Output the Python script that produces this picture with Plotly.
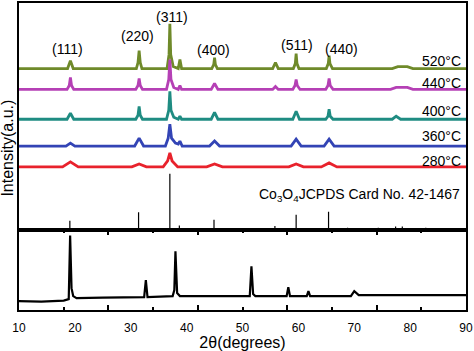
import plotly.graph_objects as go

# ---------------- data ----------------
# Co3O4 samples (relative intensity above each pattern's own baseline)
tt_520 = [10, 18.7, 19.2, 19.7, 31.0, 31.3, 31.5, 31.7, 32.0, 36.5, 36.85, 37.0, 37.15, 37.6, 38.5, 38.8, 39.1,
          44.5, 44.85, 45.0, 45.15, 45.5, 55.4, 55.9, 56.4, 59.1, 59.45, 59.6, 59.75, 60.1, 65.0, 65.35, 65.5, 65.65, 66.1,
          76.8, 77.8, 79.5, 80.5, 90]
int_520 = [0, 0, 8, 0, 0, 6, 18, 6, 0, 0, 14, 45, 14, 2, 0, 9, 0,
           0, 4, 11, 4, 0, 0, 6, 0, 0, 5, 15, 5, 0, 0, 5, 13, 5, 0,
           0, 2, 2, 0, 0]

tt_440 = [10, 18.6, 19.0, 19.2, 19.4, 19.8, 30.9, 31.3, 31.5, 31.7, 32.1, 36.4, 36.8, 37.0, 37.2, 37.7, 38.5, 38.8, 39.1,
          44.4, 45.0, 45.6, 55.4, 55.9, 56.4, 59.0, 59.4, 59.6, 59.8, 60.3, 64.9, 65.3, 65.5, 65.7, 66.2,
          76.5, 77.5, 79.5, 80.5, 90]
int_440 = [0, 0, 4, 12, 4, 0, 0, 4, 11, 4, 0, 0, 10, 30, 10, 2, 0, 4, 0,
           0, 6, 0, 0, 3, 0, 0, 4, 10, 4, 0, 0, 4, 11, 4, 0,
           0, 2, 2, 0, 0]

tt_400 = [10, 18.6, 19.2, 19.8, 30.9, 31.3, 31.5, 31.7, 32.1, 36.4, 36.8, 37.0, 37.2, 37.7, 38.5, 38.8, 39.1,
          44.4, 45.0, 45.6, 59.0, 59.6, 60.2, 64.9, 65.3, 65.5, 65.7, 66.2, 76.8, 77.5, 78.3, 90]
int_400 = [0, 0, 6, 0, 0, 4, 13, 4, 0, 0, 9, 28, 9, 2, 0, 3, 0,
           0, 7, 0, 0, 8, 0, 0, 3, 10, 3, 0, 0, 3, 0, 0]

tt_360 = [10, 18.4, 19.2, 20.0, 30.7, 31.5, 32.3, 36.2, 36.7, 37.0, 37.3, 38.0, 38.5, 38.8, 39.2,
          44.1, 45.0, 45.9, 58.7, 59.6, 60.5, 64.6, 65.5, 66.4, 90]
int_360 = [0, 0, 3, 0, 0, 8, 0, 0, 8, 22, 8, 3, 2, 5, 0,
           0, 5, 0, 0, 7, 0, 0, 7, 0, 0]

tt_280 = [10, 17.8, 19.2, 20.6, 30.2, 31.5, 32.8, 35.8, 36.6, 37.0, 37.4, 38.4, 43.6, 45.0, 46.4,
          58.3, 59.6, 60.9, 64.1, 65.5, 66.9, 90]
int_280 = [0, 0, 5, 0, 0, 3, 0, 0, 6, 14, 6, 0, 0, 3, 0,
           0, 3, 0, 0, 4, 0, 0]

temps = ["520°C", "440°C", "400°C", "360°C", "280°C"]

# Co3O4 JCPDS Card No. 42-1467 reference lines
stick_tt = [19.1, 31.4, 37.0, 38.7, 44.9, 55.8, 59.6, 65.4, 68.8, 74.3, 77.4, 78.6, 82.8]
stick_int = [17, 32, 100, 9, 19, 8, 28, 33, 5, 5, 7, 7, 5]

# beta-Co(OH)2 precursor
tt_b = [10, 14, 18.0, 18.9, 19.15, 19.4, 19.7, 20.3, 25, 32.4, 32.7, 33.0, 37.5, 37.8, 38.0, 38.3, 38.8,
        51.3, 51.6, 51.9, 52.3, 57.9, 58.2, 58.5, 61.5, 61.8, 62.1, 69.4, 70.0, 70.8, 90]
int_b = [9, 8.5, 9.5, 11, 75, 22, 14, 12, 12.5, 13, 30, 13, 14, 20, 59, 17, 14,
         14, 44, 16, 14, 14, 23, 14, 14, 19, 14, 14, 19, 15, 15]

peak_labels = ["(111)", "(220)", "(311)", "(400)", "(511)", "(440)"]

# ---------------- styling / layout ----------------
FONT = "Arial, Liberation Sans, sans-serif"
colors = ["#6f8a2a", "#b540b5", "#1f8c82", "#3344b5", "#e8222c"]
offsets = [163, 142, 112, 85, 64]          # vertical stacking in the upper panel
stick_scale = 0.57
series = [(tt_520, int_520), (tt_440, int_440), (tt_400, int_400), (tt_360, int_360), (tt_280, int_280)]

fig = go.Figure()

for (tt, it), off, col, name in zip(series, offsets, colors, temps):
    fig.add_trace(go.Scatter(x=tt, y=[v + off for v in it], mode="lines",
                             line=dict(color=col, width=2.8), name=name,
                             xaxis="x2", yaxis="y2", showlegend=False))

sx, sy = [], []
for t, h in zip(stick_tt, stick_int):
    sx += [t, t, None]
    sy += [0, h * stick_scale, None]
fig.add_trace(go.Scatter(x=sx, y=sy, mode="lines", line=dict(color="black", width=1.2),
                         xaxis="x2", yaxis="y2", showlegend=False))

fig.add_trace(go.Scatter(x=tt_b, y=int_b, mode="lines", line=dict(color="black", width=2.2),
                         xaxis="x", yaxis="y", showlegend=False))
# invisible trace to carry the tick-only overlay axis
fig.add_trace(go.Scatter(x=[10, 90], y=[0, 0], mode="markers", marker=dict(opacity=0),
                         xaxis="x3", yaxis="y", showlegend=False, hoverinfo="skip"))

split = 0.259
axline = dict(showline=True, linecolor="black", linewidth=2, mirror=True, showgrid=False, zeroline=False)

fig.update_layout(
    width=474, height=351,
    margin=dict(l=19, r=7, t=1, b=41),
    paper_bgcolor="white", plot_bgcolor="white",
    font=dict(family=FONT, color="black"),
    xaxis=dict(domain=[0, 1], range=[10, 90], anchor="y", tickvals=[10, 20, 30, 40, 50, 60, 70, 80, 90],
               ticks="", tickfont=dict(size=12), ticklabelstandoff=6,
               title=dict(text="2θ(degrees)", font=dict(size=16), standoff=3), **axline),
    yaxis=dict(domain=[0, split], range=[0, 80], anchor="x", showticklabels=False, ticks="", **axline),
    xaxis2=dict(domain=[0, 1], range=[10, 90], anchor="y2", showticklabels=False, ticks="", **axline),
    yaxis2=dict(domain=[split, 1], range=[0, 229], anchor="x2", showticklabels=False, ticks="", **axline),
    xaxis3=dict(overlaying="x", anchor="y", range=[10, 90], showticklabels=False, showgrid=False, zeroline=False,
                showline=True, linecolor="black", linewidth=2, mirror="ticks",
                tickmode="array", tickvals=[10, 26, 42, 58, 74, 90], ticks="inside", ticklen=5,
                tickwidth=1.5, tickcolor="black",
                minor=dict(tickmode="array", tickvals=[18, 34, 50, 66, 82], ticks="inside", ticklen=3,
                           tickwidth=1.5, tickcolor="black")),
)

ann = []
label_pos = [(18.75, 183), (31.25, 196), (37.3, 215), (44.8, 182), (59.8, 187), (67.7, 183)]
for txt, (x, y) in zip(peak_labels, label_pos):
    ann.append(dict(x=x, y=y, xref="x2", yref="y2", text=txt, showarrow=False,
                    font=dict(size=14), xanchor="center", yanchor="middle"))
temp_y = [171, 148, 120, 95, 70]
for txt, y in zip(temps, temp_y):
    ann.append(dict(x=89.4, y=y, xref="x2", yref="y2", text=txt, showarrow=False,
                    font=dict(size=14), xanchor="right", yanchor="middle"))
ann.append(dict(x=89.2, y=36, xref="x2", yref="y2",
                text="Co<sub>3</sub>O<sub>4</sub>JCPDS Card No. 42-1467", showarrow=False,
                font=dict(size=14), xanchor="right", yanchor="middle"))
ann.append(dict(x=90.1, y=26, xref="x", yref="y", text="β-Co(OH)<sub>2</sub>", showarrow=False,
                font=dict(size=14), xanchor="right", yanchor="middle"))
ann.append(dict(x=-0.026, y=0.527, xref="paper", yref="paper", text="Intensity(a.u.)", textangle=-90,
                showarrow=False, font=dict(size=16), xanchor="center", yanchor="middle"))
fig.update_layout(annotations=ann)

fig.write_html("out.html")
